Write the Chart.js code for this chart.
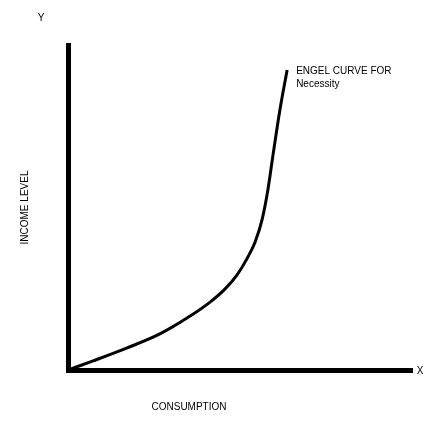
<!DOCTYPE html>
<html>
<head>
<meta charset="utf-8">
<script src="https://cdn.jsdelivr.net/npm/chart.js@4"></script>
<style>
    html, body { margin: 0; padding: 0; background: #fff; }
    #wrap { width: 440px; height: 430px; }
</style>
</head>
<body>
<div id="wrap"><canvas id="engelChart" width="440" height="430"></canvas></div>
<script>
// Engel curve (axis units 0-100)
const consumption = [0, 7.3, 17.2, 26.7, 35.5, 41.3, 45.6, 49.1, 52.0, 54.4, 56.4, 58.1, 59.6, 61.6, 63.7];
const income = [0, 2.8, 6.8, 11.1, 16.6, 20.9, 24.9, 29.2, 34.2, 39.4, 46.2, 55.4, 66.2, 80.0, 92.3];
const curveLabel = ['ENGEL CURVE FOR', 'Necessity'];
const xTitle = 'CONSUMPTION';
const yTitle = 'INCOME LEVEL';

const points = consumption.map((x, i) => ({ x: x, y: income[i] }));
const labelFont = { family: '"Liberation Sans", Arial, sans-serif', size: 10 };

// 텍스트 라벨 그리기
const labelPlugin = {
    id: 'labels',
    afterDraw(chart) {
        const ctx = chart.ctx;
        const area = chart.chartArea;
        const last = points[points.length - 1];
        const px = chart.scales.x.getPixelForValue(last.x);
        const py = chart.scales.y.getPixelForValue(last.y);
        ctx.save();
        ctx.fillStyle = '#000';
        ctx.font = '10px "Liberation Sans", Arial, sans-serif';
        ctx.textBaseline = 'middle';
        ctx.textAlign = 'left';
        ctx.fillText(curveLabel[0], px + 9, py + 1);
        ctx.fillText(curveLabel[1], px + 9, py + 14);

        ctx.textAlign = 'center';
        ctx.fillText('Y', 41, 18);
        ctx.fillText('X', area.right + 8, area.bottom + 1);
        ctx.fillText(xTitle, 189, 407);
        ctx.restore();
    }
};

new Chart(document.getElementById('engelChart'), {
    type: 'scatter',
    data: {
        datasets: [{
            data: points,
            showLine: true,
            borderColor: '#000',
            borderWidth: 3,
            pointRadius: 0,
            cubicInterpolationMode: 'monotone',
            fill: false
        }]
    },
    options: {
        responsive: false,
        animation: false,
        layout: { padding: { left: 15, right: 28, top: 45, bottom: 60 } },
        plugins: { legend: { display: false }, tooltip: { enabled: false } },
        scales: {
            x: {
                type: 'linear', min: 0, max: 100,
                grid: { display: false, drawTicks: false },
                ticks: { display: false },
                border: { display: true, color: '#000', width: 5 }
            },
            y: {
                type: 'linear', min: 0, max: 100,
                grid: { display: false, drawTicks: false },
                ticks: { display: false },
                border: { display: true, color: '#000', width: 5 },
                title: {
                    display: true,
                    text: yTitle,
                    color: '#000',
                    font: labelFont,
                    padding: { top: 4, bottom: 37 }
                }
            }
        }
    },
    plugins: [labelPlugin]
});
</script>
</body>
</html>
